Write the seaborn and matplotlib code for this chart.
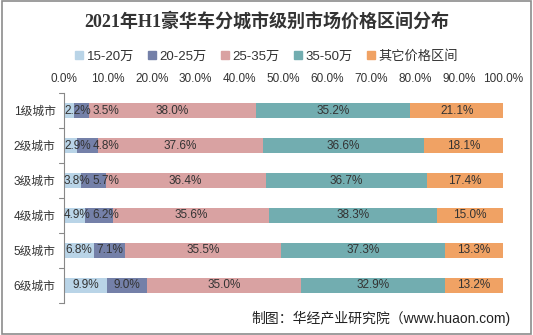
import matplotlib
matplotlib.use("Agg")
import matplotlib.pyplot as plt
import matplotlib.patches as mpatches
import numpy as np
import pandas as pd
import seaborn as sns

cities = ["1级城市", "2级城市", "3级城市", "4级城市", "5级城市", "6级城市"]
series_names = ["15-20万", "20-25万", "25-35万", "35-50万", "其它价格区间"]
s_15_20 = [2.2, 2.9, 3.8, 4.9, 6.8, 9.9]
s_20_25 = [3.5, 4.8, 5.7, 6.2, 7.1, 9.0]
s_25_35 = [38.0, 37.6, 36.4, 35.6, 35.5, 35.0]
s_35_50 = [35.2, 36.6, 36.7, 38.3, 37.3, 32.9]
s_other = [21.1, 18.1, 17.4, 15.0, 13.3, 13.2]
x_ticks = [0, 10, 20, 30, 40, 50, 60, 70, 80, 90, 100]

colors = ["#b9d4e7", "#7480a8", "#d9a2a2", "#72adb0", "#f0a264"]

sns.set_theme(style="white")
plt.rcParams["font.family"] = ["Liberation Sans", "Noto Sans CJK SC"]

values = np.array([s_15_20, s_20_25, s_25_35, s_35_50, s_other])
cum = np.cumsum(values, axis=0)
df = pd.DataFrame({"city": cities})
for i, name in enumerate(series_names):
    df[name] = cum[i]

fig = plt.figure(figsize=(5.33, 3.35), dpi=100)
ax = fig.add_axes([0.120, 0.096, 0.824, 0.626])

# stacked bars: draw cumulative totals from the outermost layer inwards
for i in range(len(series_names) - 1, -1, -1):
    sns.barplot(data=df, x=series_names[i], y="city", orient="h",
                color=colors[i], width=0.43, saturation=1,
                edgecolor="none", linewidth=0, ax=ax)

ax.set_xlim(0, 100)
ax.set_ylim(5.5, -0.5)

# segment labels, centred in each segment
labels = [[None] * len(series_names) for _ in cities]
for i in range(len(series_names)):
    for j in range(len(cities)):
        v = values[i, j]
        center = cum[i, j] - v / 2
        labels[j][i] = ax.text(center, j, f"{v:.1f}%", ha="center",
                               va="center", fontsize=8.5, color="#333333")

# push crowded labels in narrow segments apart so they read side by side
fig.canvas.draw()
renderer = fig.canvas.get_renderer()
ax_bb = ax.get_window_extent(renderer)
px_per_unit = ax_bb.width / 100.0
for j in range(len(cities)):
    prev_right = ax_bb.x0
    for i in range(len(series_names)):
        t = labels[j][i]
        bb = t.get_window_extent(renderer)
        shift = max(0.0, prev_right + 2 - bb.x0) if i > 0 else max(0.0, prev_right - bb.x0)
        if shift > 0:
            x, y = t.get_position()
            t.set_position((x + shift / px_per_unit, y))
        prev_right = bb.x1 + shift

ax.xaxis.tick_top()
ax.set_xticks(x_ticks)
ax.set_xticklabels([f"{t:.1f}%" for t in x_ticks], fontsize=8.5, color="#333333")
ax.tick_params(axis="x", length=0, pad=6)
ax.set_yticks(range(len(cities)))
ax.set_yticklabels(cities, fontsize=8.5, color="#333333")
ax.tick_params(axis="y", length=0, pad=6)
ax.set_xlabel("")
ax.set_ylabel("")
for side in ["top", "right", "bottom"]:
    ax.spines[side].set_visible(False)
ax.spines["left"].set_color("#888888")
ax.spines["left"].set_linewidth(0.8)
# category boundary ticks on the left axis
for b in np.arange(-0.5, len(cities), 1.0):
    ax.plot([-1.2, 0], [b, b], color="#888888", lw=0.8, clip_on=False)

fig.text(0.5, 0.935, "2021年H1豪华车分城市级别市场价格区间分布",
         ha="center", va="center", fontsize=13, fontweight="bold",
         color="#333333", family=["Liberation Serif", "Noto Sans CJK SC"])

handles = [mpatches.Patch(color=c, label=n) for c, n in zip(colors, series_names)]
fig.legend(handles=handles, loc="center", bbox_to_anchor=(0.5, 0.832), ncol=5,
           frameon=False, fontsize=9.5, handlelength=0.6, handleheight=0.6,
           handletextpad=0.3, columnspacing=1.05, labelcolor="#333333")

fig.text(0.958, 0.051, "制图：华经产业研究院（www.huaon.com)", ha="right",
         va="center", fontsize=10, color="#222222")

fig.patches.append(mpatches.Rectangle((0.004, 0.004), 0.992, 0.992,
                                      transform=fig.transFigure, fill=False,
                                      edgecolor="#8c8c8c", linewidth=1.2))

fig.savefig("out.png", dpi=100)
